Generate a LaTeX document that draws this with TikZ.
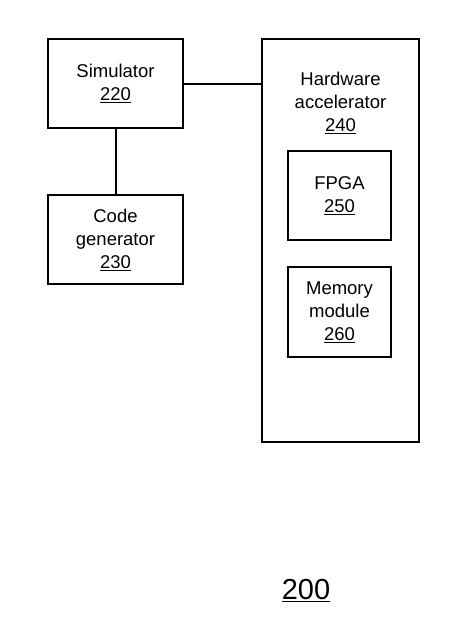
\documentclass[tikz,border=0pt]{standalone}
\usepackage{fontspec}
\setmainfont{Liberation Sans}
\begin{document}
\begin{tikzpicture}[x=1pt,y=-1pt,
  blk/.style={draw,line width=1.8pt,rectangle,inner sep=0pt},
  lbl/.style={align=center,font=\fontsize{18.5}{23}\selectfont,inner sep=0pt},
  wire/.style={line width=2pt}]
\useasboundingbox (0,0) rectangle (474,625);
% boxes
\node[blk,minimum width=135pt,minimum height=89pt] (sim) at (115.5,83.5) {};
\node[blk,minimum width=135pt,minimum height=89pt] (cg) at (115.5,239.5) {};
\node[blk,minimum width=157pt,minimum height=403pt] (ha) at (340.5,240.5) {};
\node[blk,minimum width=103pt,minimum height=89pt] (fpga) at (339.5,195.5) {};
\node[blk,minimum width=103pt,minimum height=90pt] (mem) at (339.5,312) {};
% labels
\node[lbl] (simt) at (115.5,83.5) {Simulator\\\underline{220}};
\node[lbl] (cgt) at (115.5,240) {Code\\generator\\\underline{230}};
\node[lbl] (hat) at (340.5,103) {Hardware\\accelerator\\\underline{240}};
\node[lbl] (fpgat) at (339.5,195.5) {FPGA\\\underline{250}};
\node[lbl] (memt) at (339.5,312) {Memory\\module\\\underline{260}};
\node[lbl,font=\fontsize{29}{32}\selectfont] (fig) at (306,591) {\underline{200}};
% connectors
\draw[wire] (sim.south) -- (cg.north);
\draw[wire] (sim.east) -- (sim.east -| ha.west);
\end{tikzpicture}
\end{document}
